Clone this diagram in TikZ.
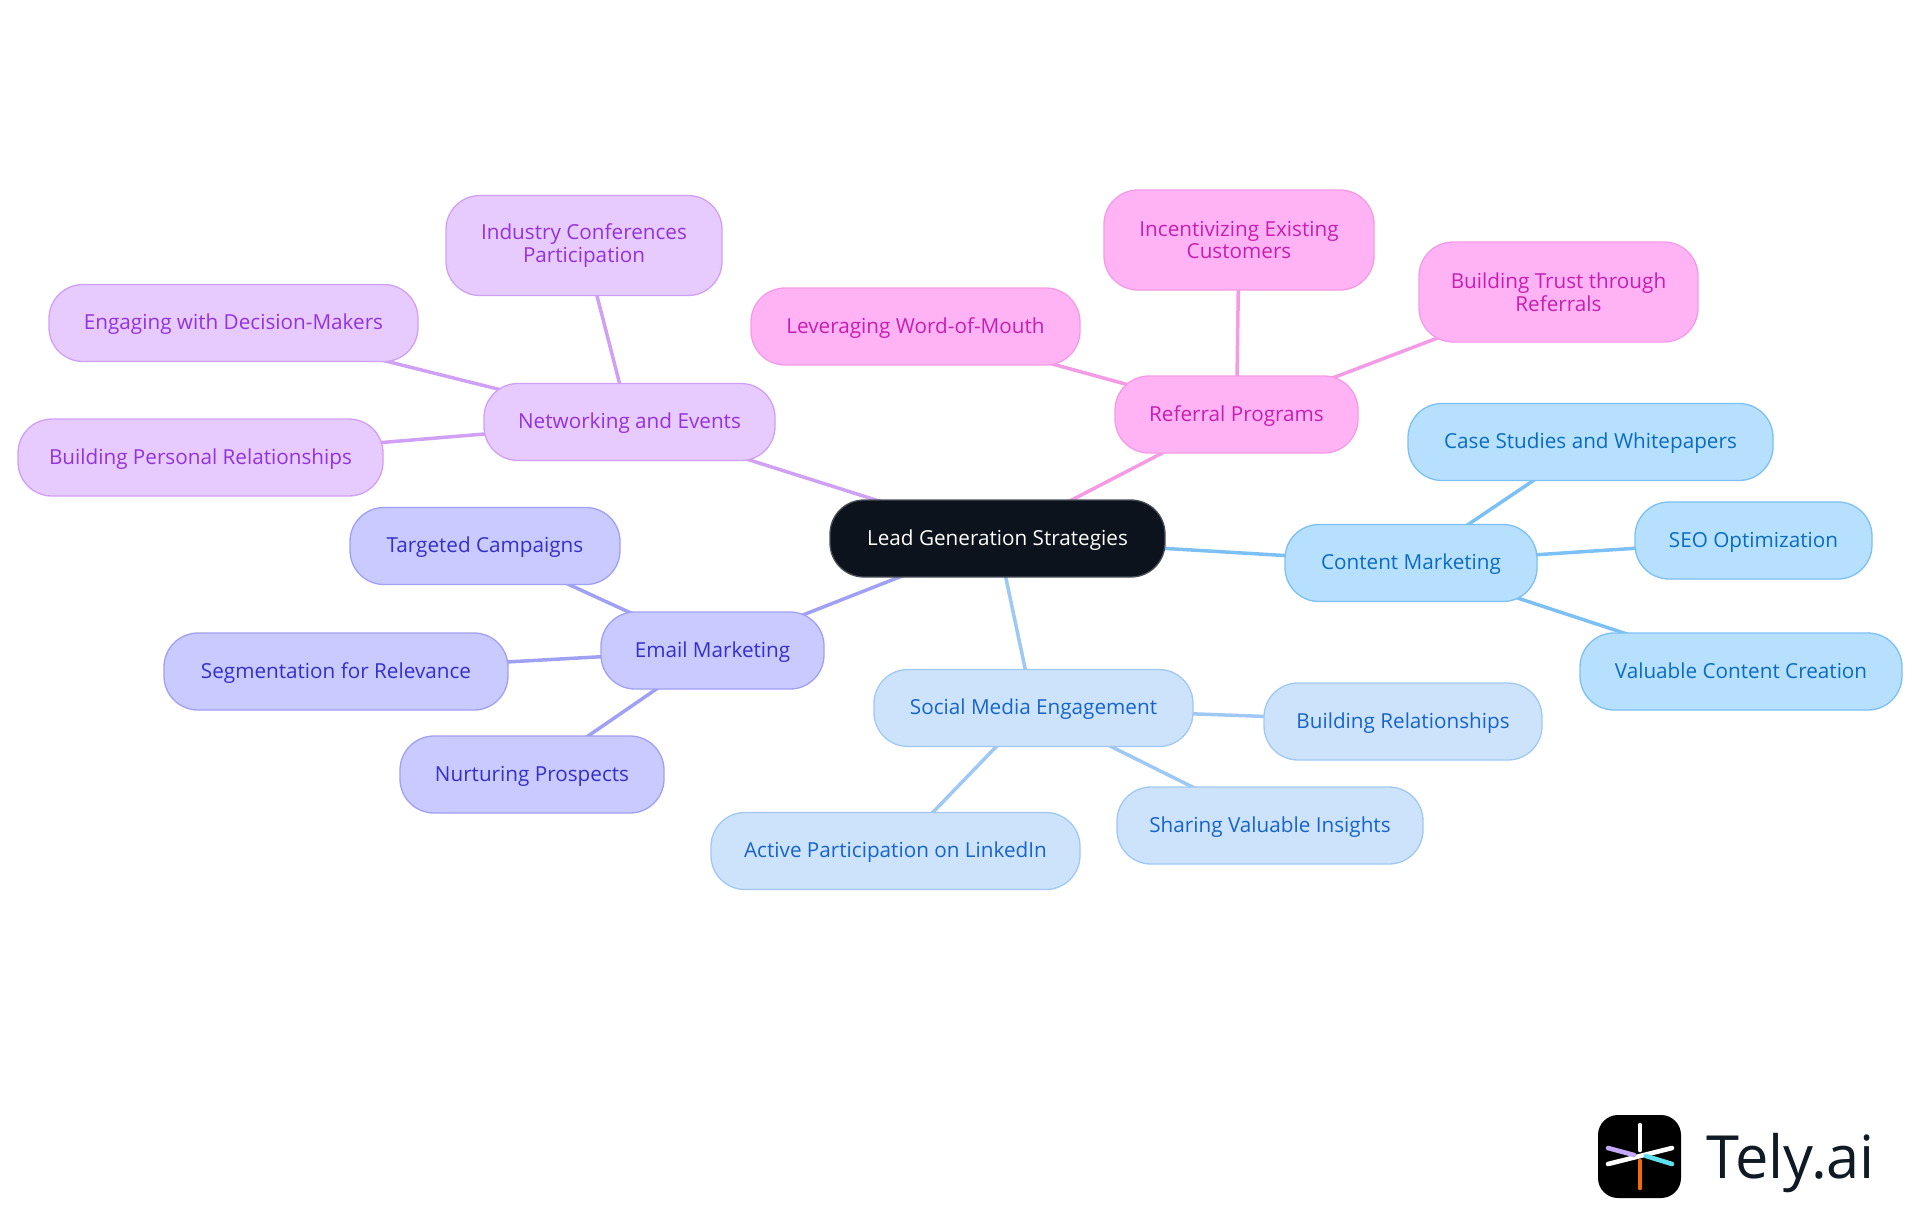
\documentclass[tikz,border=0pt]{standalone}
\usepackage{fontspec}
\setmainfont{Open Sans}
\usepackage{xcolor}
\usetikzlibrary{backgrounds}
\definecolor{rootfill}{HTML}{0D131C}
\definecolor{rootrule}{HTML}{4A4F57}
\definecolor{contentfill}{HTML}{B6E0FE}
\definecolor{contentrule}{HTML}{7CC0F5}
\definecolor{contenttext}{HTML}{0B6CC0}
\definecolor{socialfill}{HTML}{CDE3FC}
\definecolor{socialrule}{HTML}{A0C8F5}
\definecolor{socialtext}{HTML}{1765C8}
\definecolor{emailfill}{HTML}{C9CAFF}
\definecolor{emailrule}{HTML}{A0A0F5}
\definecolor{emailtext}{HTML}{3730C8}
\definecolor{networkfill}{HTML}{E7CBFF}
\definecolor{networkrule}{HTML}{CFA0F5}
\definecolor{networktext}{HTML}{9333DB}
\definecolor{referralfill}{HTML}{FFB3F5}
\definecolor{referralrule}{HTML}{F59BE5}
\definecolor{referraltext}{HTML}{C71FB0}
\definecolor{logotext}{HTML}{0F1A24}
\definecolor{logoviolet}{HTML}{C4A8F5}
\definecolor{logocyan}{HTML}{5FE0EE}
\definecolor{logoorange}{HTML}{F26A10}

\tikzset{
  mapbox/.style={rounded corners=34pt, line width=1.3pt, minimum height=77pt, inner sep=0pt,
    align=center, font=\fontsize{20.7}{22.8}\selectfont, text height=16pt, text depth=3pt},
  twolines/.style={text height=, text depth=, minimum height=100pt},
  rootbox/.style={mapbox, fill=rootfill, draw=rootrule, text=white},
  contentbox/.style={mapbox, fill=contentfill, draw=contentrule, text=contenttext},
  socialbox/.style={mapbox, fill=socialfill, draw=socialrule, text=socialtext},
  emailbox/.style={mapbox, fill=emailfill, draw=emailrule, text=emailtext},
  networkbox/.style={mapbox, fill=networkfill, draw=networkrule, text=networktext},
  referralbox/.style={mapbox, fill=referralfill, draw=referralrule, text=referraltext},
  mapline/.style={line width=3.5pt}
}

\begin{document}
\begin{tikzpicture}[x=1pt, y=-1pt]
  \useasboundingbox (0,0) rectangle (1920,1215);
  % centre
  \node[rootbox, minimum width=335pt] (root) at (997.5,538.5) {Lead Generation Strategies};
  % content marketing
  \node[contentbox, minimum width=252pt] (content) at (1411,563) {Content Marketing};
  \node[contentbox, minimum width=365pt] (casestudies) at (1590.5,442) {Case Studies and Whitepapers};
  \node[contentbox, minimum width=237pt] (seo) at (1753.5,540.5) {SEO Optimization};
  \node[contentbox, minimum width=322pt] (valuable) at (1741,671.5) {Valuable Content Creation};
  % social media
  \node[socialbox, minimum width=319pt] (social) at (1033.5,708) {Social Media Engagement};
  \node[socialbox, minimum width=278pt] (relationships) at (1403,721.5) {Building Relationships};
  \node[socialbox, minimum width=306pt] (insights) at (1270,825.5) {Sharing Valuable Insights};
  \node[socialbox, minimum width=369pt] (linkedin) at (895.5,851) {Active Participation on LinkedIn};
  % email marketing
  \node[emailbox, minimum width=223pt] (email) at (712.5,650.5) {Email Marketing};
  \node[emailbox, minimum width=270pt] (targeted) at (485,546) {Targeted Campaigns};
  \node[emailbox, minimum width=344pt] (segmentation) at (336,671.5) {Segmentation for Relevance};
  \node[emailbox, minimum width=264pt] (nurturing) at (532,774.5) {Nurturing Prospects};
  % networking
  \node[networkbox, minimum width=291pt] (network) at (629.5,422) {Networking and Events};
  \node[networkbox, twolines, minimum width=276pt] (conferences) at (584,245.5) {Industry Conferences\\Participation};
  \node[networkbox, minimum width=369pt] (engaging) at (233.5,323) {Engaging with Decision-Makers};
  \node[networkbox, minimum width=365pt] (personal) at (200.5,457.5) {Building Personal Relationships};
  % referrals
  \node[referralbox, minimum width=243pt] (referral) at (1236.5,414.5) {Referral Programs};
  \node[referralbox, twolines, minimum width=270pt] (incentives) at (1239,240) {Incentivizing Existing\\Customers};
  \node[referralbox, twolines, minimum width=279pt] (trust) at (1558.5,292) {Building Trust through\\Referrals};
  \node[referralbox, minimum width=329pt] (mouth) at (915.5,326.5) {Leveraging Word-of-Mouth};
  % connectors
  \begin{scope}[on background layer]
    \draw[mapline, contentrule] (root.center) -- (content.center);
    \draw[mapline, contentrule] (content.center) -- (casestudies.center);
    \draw[mapline, contentrule] (content.center) -- (seo.center);
    \draw[mapline, contentrule] (content.center) -- (valuable.center);
    \draw[mapline, socialrule] (root.center) -- (social.center);
    \draw[mapline, socialrule] (social.center) -- (relationships.center);
    \draw[mapline, socialrule] (social.center) -- (insights.center);
    \draw[mapline, socialrule] (social.center) -- (linkedin.center);
    \draw[mapline, emailrule] (root.center) -- (email.center);
    \draw[mapline, emailrule] (email.center) -- (targeted.center);
    \draw[mapline, emailrule] (email.center) -- (segmentation.center);
    \draw[mapline, emailrule] (email.center) -- (nurturing.center);
    \draw[mapline, networkrule] (root.center) -- (network.center);
    \draw[mapline, networkrule] (network.center) -- (conferences.center);
    \draw[mapline, networkrule] (network.center) -- (engaging.center);
    \draw[mapline, networkrule] (network.center) -- (personal.center);
    \draw[mapline, referralrule] (root.center) -- (referral.center);
    \draw[mapline, referralrule] (referral.center) -- (incentives.center);
    \draw[mapline, referralrule] (referral.center) -- (trust.center);
    \draw[mapline, referralrule] (referral.center) -- (mouth.center);
  \end{scope}
  % logo
  \fill[black, rounded corners=20pt] (1598,1115) rectangle (1681,1198);
  \begin{scope}[line width=4.6pt, line cap=round]
    \draw[white] (1640,1150) -- (1640,1125);
    \draw[white] (1608,1164) -- (1672,1148);
    \draw[logoorange] (1640,1161) -- (1640,1188);
    \draw[logoviolet] (1634,1155) -- (1608,1148);
    \draw[logocyan] (1646,1156) -- (1672,1164);
  \end{scope}
  \node[text=logotext, inner sep=0pt, anchor=base west, font=\fontsize{59.5}{59.5}\selectfont] (brand) at (1706,1178) {Tely.ai};
\end{tikzpicture}
\end{document}
